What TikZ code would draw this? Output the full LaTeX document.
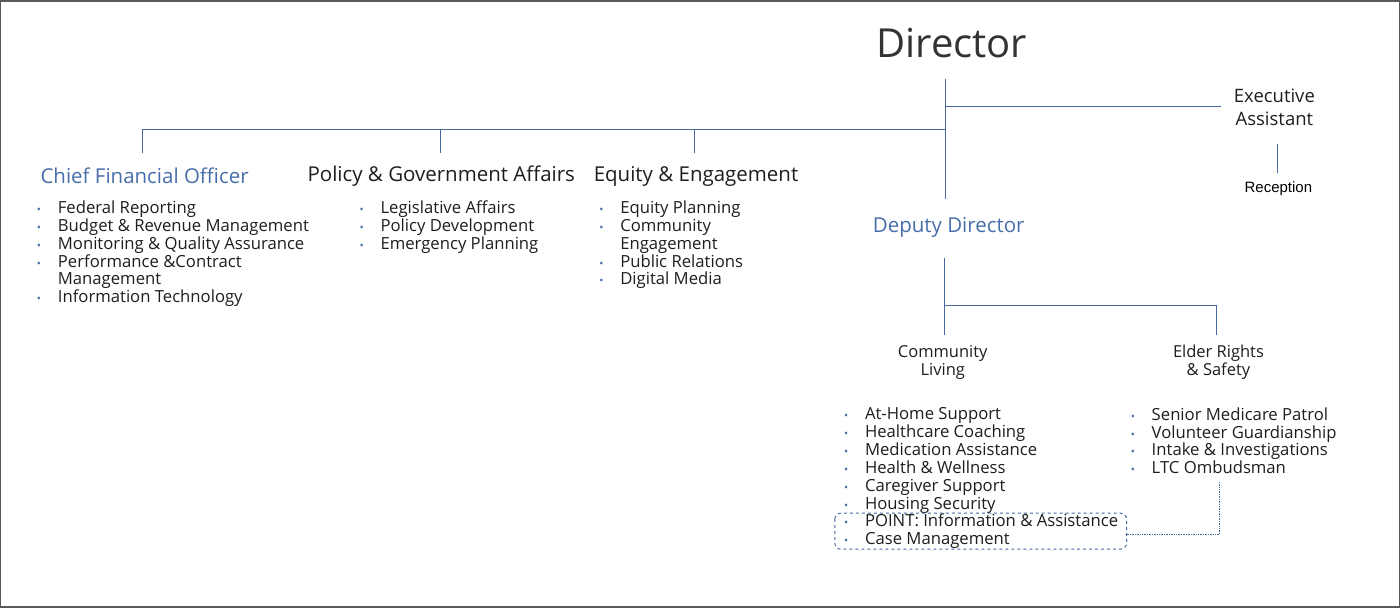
\documentclass[tikz,border=0pt]{standalone}
\usepackage{fontspec}
\setmainfont{Open Sans}
\newfontfamily\arialf{Liberation Sans}
\begin{document}
\definecolor{ln}{RGB}{70,105,160}
\definecolor{hd}{RGB}{72,110,170}
\definecolor{tx}{RGB}{30,30,30}
\newcommand{\bu}{\makebox[21pt][l]{\textcolor{hd}{\fontsize{11}{12}\selectfont\textbullet}}}
\newcommand{\ind}{\makebox[21pt][l]{}}
\begin{tikzpicture}[x=1pt,y=-1pt,
  line/.style={draw=ln,line width=0.9pt},
  head/.style={font=\fontsize{20.5}{22}\selectfont,text=tx,inner sep=0},
  blue/.style={head,text=hd},
  sub/.style={font=\fontsize{16.5}{18}\selectfont,text=tx,align=center,inner sep=0},
  list/.style={font=\fontsize{16.7}{17.9}\selectfont,text=tx,align=left,anchor=north west,inner sep=0}]
\draw[gray!70!black,line width=1.5pt,fill=white] (0,0) rectangle (1400,607);
\useasboundingbox (0,0) rectangle (1400,607);
\node[font=\fontsize{40}{44}\selectfont,text=black!80] (dir) at (952,42) {Director};
\node[text=tx,inner sep=0,align=center,font=\fontsize{18.5}{23}\selectfont] (ea) at (1275,107) {Executive\\Assistant};
\node[font=\arialf\fontsize{15}{16}\selectfont,inner sep=0] (rec) at (1279,188) {Reception};
\node[blue] (cfo) at (144,175) {Chief Financial Officer};
\node[head] (pga) at (441,176) {Policy \& Government Affairs};
\node[head] (eqe) at (696,176) {Equity \& Engagement};
\node[blue] (dd) at (949,227) {Deputy Director};
\node[sub] (cl) at (943,362) {Community\\Living};
\node[sub] (er) at (1219,362) {Elder Rights\\\& Safety};
\coordinate (top) at (946,78);
\coordinate (mid) at (946,198);
\coordinate (eaj) at (946,106);
\coordinate (eae) at (1222,106);
\coordinate (hj) at (946,129);
\draw[line] (top) -- (mid);
\draw[line] (eaj) -- (eae);
\draw[line] (1278,143) -- (1278,172);
\draw[line] (142,152) -- (142,129) -- (hj);
\draw[line] (440,129) -- (440,152);
\draw[line] (694,129) -- (694,152);
\draw[line] (945,258) -- (945,335);
\draw[line] (945,305) -- (1217,305) -- (1217,335);
\node[list] (l1) at (36,200) {\bu Federal Reporting\\\bu Budget \& Revenue Management\\\bu Monitoring \& Quality Assurance\\\bu Performance \&Contract\\\ind Management\\\bu Information Technology};
\node[list] (l2) at (359,200) {\bu Legislative Affairs\\\bu Policy Development\\\bu Emergency Planning};
\node[list] (l3) at (599,200) {\bu Equity Planning\\\bu Community\\\ind Engagement\\\bu Public Relations\\\bu Digital Media};
\node[list] (l4) at (844,407) {\bu At-Home Support\\\bu Healthcare Coaching\\\bu Medication Assistance\\\bu Health \& Wellness\\\bu Caregiver Support\\\bu Housing Security\\\bu POINT: Information \& Assistance\\\bu Case Management};
\node[list] (l5) at (1131,407) {\bu Senior Medicare Patrol\\\bu Volunteer Guardianship\\\bu Intake \& Investigations\\\bu LTC Ombudsman};
\draw[ln,dashed,line width=1pt,rounded corners=6pt] (835,513) rectangle (1127,549);
\coordinate (bx) at (1127,534);
\draw[ln,densely dotted,line width=0.7pt] (bx) -- (1220,534) -- (1220,482);
\end{tikzpicture}
\end{document}
